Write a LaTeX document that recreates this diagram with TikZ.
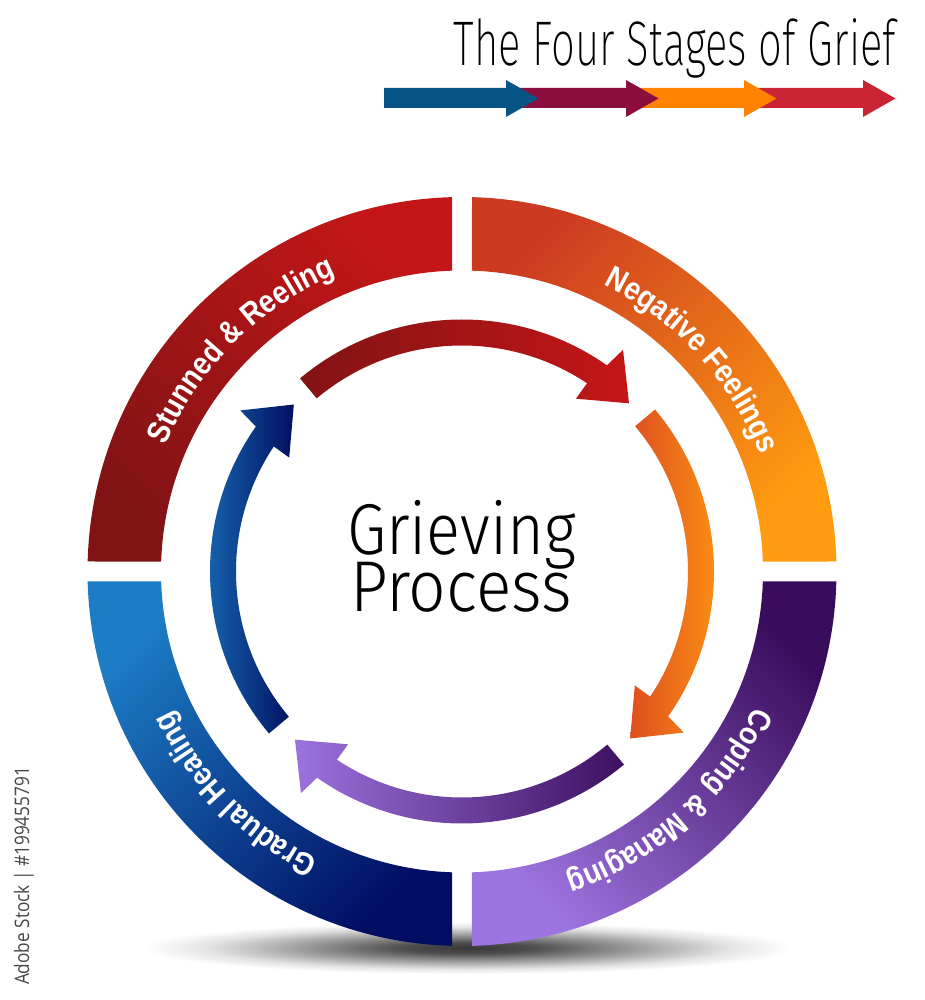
\documentclass[tikz,border=0pt]{standalone}
\usepackage{fontspec}
\usepackage{graphicx}
\usetikzlibrary{decorations.text}
\newfontfamily\thinfont[UprightFont=* ExtraLight]{Fira Sans}
\newfontfamily\midfont[UprightFont=* Light]{Fira Sans}
\newfontfamily\labfont[FakeStretch=0.87]{Liberation Sans Bold}
\newfontfamily\markfont{Open Sans}
\pgfdeclareradialshading{shadowball}{\pgfpoint{0bp}{0bp}}{
  color(0bp)=(black!78); color(5bp)=(black!70); color(10bp)=(black!50);
  color(15bp)=(black!30); color(20bp)=(black!11); color(25bp)=(white); color(50bp)=(white)}
\definecolor{sA}{HTML}{C41616}\definecolor{sB}{HTML}{821315}
\definecolor{nA}{HTML}{CC3A22}\definecolor{nB}{HTML}{FF9C10}
\definecolor{cA}{HTML}{3A0C5C}\definecolor{cB}{HTML}{9E74E0}
\definecolor{gA}{HTML}{1C7CC4}\definecolor{gB}{HTML}{000D63}
\definecolor{oA}{HTML}{DF4F20}\definecolor{oB}{HTML}{FF9A12}
\definecolor{bA}{HTML}{001060}\definecolor{bB}{HTML}{1A72BC}
\definecolor{pA}{HTML}{9C72DE}\definecolor{pB}{HTML}{3E1060}
\definecolor{bar1}{HTML}{055485}\definecolor{bar2}{HTML}{8A0F3C}
\definecolor{bar3}{HTML}{FF8200}\definecolor{bar4}{HTML}{C92433}
\newcommand{\ringpath}[4]{(#1:374.5pt) arc[start angle=#1,end angle=#2,radius=374.5pt] -- (#4:301pt) arc[start angle=#4,end angle=#3,radius=301pt] -- cycle}
\newcommand{\curvearrow}[2]{%
  \pgfmathsetmacro{\sa}{#1}%
  \shade[#2] (\sa:252pt) arc[start angle=\sa,end angle=\sa-75.1,radius=252pt]
    -- (\sa-76:274pt) -- (\sa-84.8:237pt) -- (\sa-73.4:207pt) -- (\sa-73.6:226pt)
    arc[start angle=\sa-73.6,end angle=\sa,radius=226pt] -- cycle;}
\newcommand{\barrow}[3]{%
  \fill[#3] (#1,912) -- (#2,912) -- (#2,920) -- (#2+32.5,901.5) -- (#2,883) -- (#2,892) -- (#1,892) -- cycle;}
\tikzset{
  ringlabel/.style={decorate,decoration={text along path,text align=center,text color=white,text={|\fontsize{32}{32}\selectfont\labfont|#1}}},
  bigtext/.style={anchor=base,text=black,inner sep=0pt}
}
\begin{document}
\begin{tikzpicture}[x=1pt,y=1pt]
\useasboundingbox (0,0) rectangle (924,1000);
\fill[white] (0,0) rectangle (924,1000);
% shadow
\shade[shading=shadowball] (468,52) ellipse [x radius=325pt,y radius=26pt];
% title
\node[bigtext,anchor=base east] (title) at (896,934) {\resizebox{442pt}{\height}{\fontsize{63}{63}\selectfont\thinfont The Four Stages of Grief}};
\barrow{745}{863}{bar4}
\barrow{626}{744}{bar3}
\barrow{507}{626}{bar2}
\barrow{384}{506}{bar1}
\begin{scope}[shift={(462,428.5)}]
\shade[top color=sA,bottom color=sB,shading angle=-45] \ringpath{178.47}{91.53}{178.1}{91.9};
\shade[top color=nA,bottom color=nB,shading angle=45] \ringpath{88.47}{1.53}{88.1}{1.9};
\shade[top color=cA,bottom color=cB,shading angle=-45] \ringpath{-1.53}{-88.47}{-1.9}{-88.1};
\shade[top color=gA,bottom color=gB,shading angle=45] \ringpath{-91.53}{-178.47}{-91.9}{-178.1};
\path[ringlabel={Stunned {\&} Reeling}] (172:322pt) arc[start angle=172,end angle=98,radius=322pt];
\path[ringlabel={Negative Feelings}] (80:320pt) arc[start angle=80,end angle=5,radius=320pt];
\path[ringlabel={Coping {\&} Managing}] (-10:322pt) arc[start angle=-10,end angle=-86,radius=322pt];
\path[ringlabel={Gradual Healing}] (-98:322pt) arc[start angle=-98,end angle=-173,radius=322pt];
\curvearrow{130}{left color=sB,right color=sA}
\curvearrow{40}{left color=oA,right color=oB}
\curvearrow{-50}{left color=pA,right color=pB}
\curvearrow{-140}{left color=bB,right color=bA}
\end{scope}
\node[bigtext] (grieving) at (461.5,445) {\resizebox{229pt}{\height}{\fontsize{72}{72}\selectfont\midfont Grieving}};
\node[bigtext] (process) at (461,388) {\resizebox{222pt}{\height}{\fontsize{72}{72}\selectfont\midfont Process}};
\node[rotate=90,anchor=base,text=black!72,inner sep=0pt] (stock) at (29,124) {\resizebox{218pt}{\height}{\fontsize{20}{20}\selectfont\markfont Adobe Stock | \#199455791}};
\end{tikzpicture}
\end{document}
